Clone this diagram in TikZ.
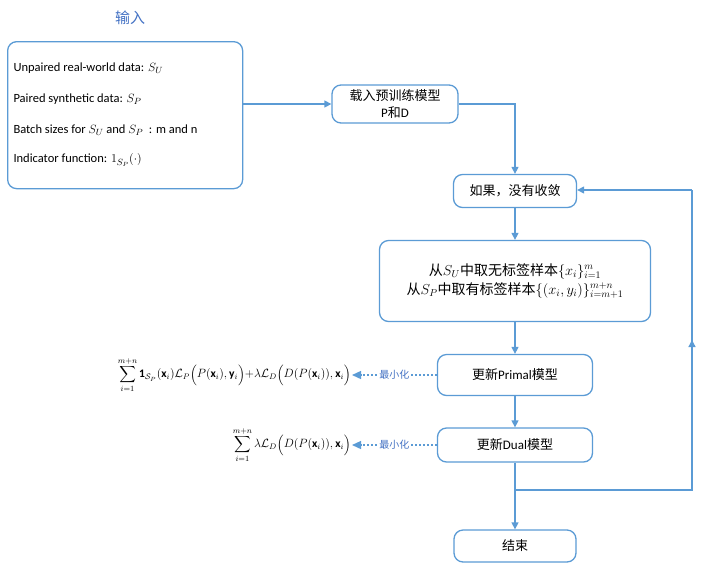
\documentclass[tikz,border=0pt]{standalone}
\usepackage{amsmath,amssymb,bm}
\usepackage{fontspec}
\setmainfont{Carlito}
\newfontfamily\cjk{Noto Sans CJK SC}
\usetikzlibrary{arrows.meta,positioning}
\definecolor{bl}{HTML}{5B9BD5}
\definecolor{tb}{HTML}{4472C4}
\tikzset{
 box/.style={draw=bl,line width=1.3pt,rounded corners=9pt,fill=white,align=center,font=\fontsize{13}{17}\selectfont},
 arr/.style={draw=bl,line width=1.3pt,-{Triangle[length=7pt,width=7pt]}},
 dsh/.style={draw=bl,line width=1.3pt,dash pattern=on 2pt off 2pt,-{Triangle[length=9pt,width=8pt]}},
 itm/.style={anchor=west,font=\fontsize{12.5}{15}\selectfont},
}
\begin{document}
\begin{tikzpicture}[x=1pt,y=-1pt]
\useasboundingbox (0,0) rectangle (704,566);
\node[text=tb,font=\cjk\fontsize{15}{18}\selectfont] (title) at (130,18) {输入};
\node[box,minimum width=235,minimum height=147,anchor=north west] (in) at (7,41) {};
\node[itm] (l1) at (10,68) {Unpaired real-world data: $\mathsf{}S_U$};
\node[itm] (l2) at (10,99) {Paired synthetic data: $S_P$};
\node[itm] (l3) at (10,130) {Batch sizes for $S_U$ and $S_P$\ \ : m and n};
\node[itm] (l4) at (10,160) {Indicator function: $1_{S_P}(\cdot)$};
\node[box,minimum width=126,minimum height=38] (load) at (395,104) {{\cjk 载入预训练模型}\\P{\cjk 和}D};
\node[box,minimum width=123,minimum height=33] (if) at (515,191) {\cjk 如果，没有收敛};
\node[box,minimum width=271,minimum height=81,font=\fontsize{14}{19}\selectfont] (samp) at (515,281) {\cjk 从$S_U$中取无标签样本$\{x_i\}_{i=1}^{m}$\\ \cjk 从$S_P$中取有标签样本$\{(x_i,y_i)\}_{i=m+1}^{m+n}$};
\node[box,minimum width=155,minimum height=41] (pri) at (515,375) {{\cjk 更新}Primal{\cjk 模型}};
\node[box,minimum width=155,minimum height=34] (dual) at (515,445) {{\cjk 更新}Dual{\cjk 模型}};
\node[box,minimum width=122,minimum height=32] (end) at (515,546) {\cjk 结束};
\node[anchor=east,font=\fontsize{11.5}{14}\selectfont,inner sep=1pt] (f1) at (352,375) {$\displaystyle\sum_{i=1}^{m+n}\mathbf{1}_{\mathcal{S}_P}(\mathbf{x}_i)\mathcal{L}_P\Big(P(\mathbf{x}_i),\mathbf{y}_i\Big){+}\lambda\mathcal{L}_D\Big(D(P(\mathbf{x}_i)),\mathbf{x}_i\Big)$};
\node[anchor=east,font=\fontsize{11.5}{14}\selectfont,inner sep=1pt] (f2) at (352,445) {$\displaystyle\sum_{i=1}^{m+n}\lambda\mathcal{L}_D\Big(D(P(\mathbf{x}_i)),\mathbf{x}_i\Big)$};
\draw[arr] (in.east|-load) -- (load);
\draw[arr] (load.east) -| (if.north);
\draw[arr] (if) -- (samp);
\draw[arr] (samp) -- (pri);
\draw[arr] (pri) -- (dual);
\draw[arr] (dual) -- (end);
\coordinate (c1) at (515,490);
\coordinate (c2) at (692,490);
\coordinate (c3) at (692,190);
\coordinate (c4) at (692,340);
\draw[draw=bl,line width=1.3pt] (c1) -- (c2) -- (c3);
\draw[arr] (c3) -- (if.east|-c3);
\draw[arr] (c2) -- (c4);
\draw[dsh] (pri.west) -- node[fill=white,text=tb,font=\cjk\fontsize{10}{12}\selectfont,inner sep=1pt] {最小化} (f1.east);
\draw[dsh] (dual.west) -- node[fill=white,text=tb,font=\cjk\fontsize{10}{12}\selectfont,inner sep=1pt] {最小化} (f2.east);
\end{tikzpicture}
\end{document}
